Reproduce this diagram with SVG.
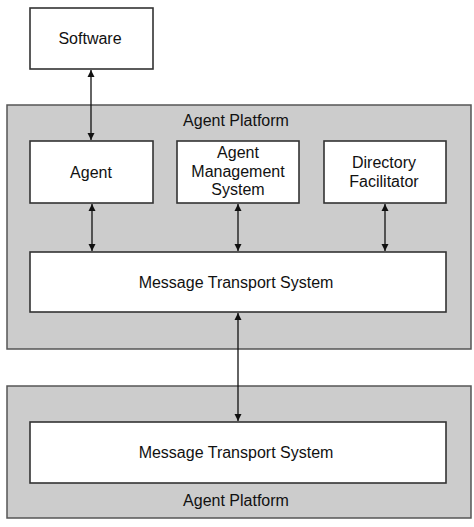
<svg xmlns="http://www.w3.org/2000/svg" width="474" height="527" viewBox="0 0 474 527">
<style>
.plat{fill:#cccccc;stroke:#555;stroke-width:1.5}
.box{fill:#fff;stroke:#333;stroke-width:1.6}
.t{font-family:"Liberation Sans",Arial,sans-serif;font-size:16px;fill:#111;text-anchor:middle}
.c{stroke:#111;stroke-width:1.3;fill:none;marker-start:url(#a);marker-end:url(#a)}
</style>
<defs>
<marker id="a" viewBox="0 0 10 10" refX="10" refY="5" markerWidth="7" markerHeight="8" markerUnits="userSpaceOnUse" orient="auto-start-reverse">
<path d="M0,0 L10,5 L0,10 Z" fill="#111"/>
</marker>
</defs>
<rect width="474" height="527" fill="#fff"/>
<g id="platform-top">
<rect class="plat" x="7" y="105" width="464" height="244"/>
<text class="t" x="236" y="126">Agent Platform</text>
</g>
<g id="platform-bottom">
<rect class="plat" x="7" y="386" width="464" height="132"/>
<text class="t" x="236" y="506">Agent Platform</text>
</g>
<g id="software">
<rect class="box" x="30" y="8" width="123" height="61"/>
<text class="t" x="90" y="44">Software</text>
</g>
<g id="agent">
<rect class="box" x="30" y="141" width="123" height="62"/>
<text class="t" x="91" y="178">Agent</text>
</g>
<g id="ams">
<rect class="box" x="177" y="141" width="122" height="62"/>
<text class="t" x="238" y="158">Agent</text>
<text class="t" x="238" y="177">Management</text>
<text class="t" x="238" y="195">System</text>
</g>
<g id="df">
<rect class="box" x="324" y="141" width="122" height="62"/>
<text class="t" x="384" y="168">Directory</text>
<text class="t" x="384" y="187">Facilitator</text>
</g>
<g id="mts-top">
<rect class="box" x="30" y="252" width="416" height="60"/>
<text class="t" x="236" y="288">Message Transport System</text>
</g>
<g id="mts-bottom">
<rect class="box" x="30" y="422" width="416" height="61"/>
<text class="t" x="236" y="458">Message Transport System</text>
</g>
<g id="connectors">
<line class="c" x1="91" y1="70" x2="91" y2="140"/>
<line class="c" x1="92" y1="204" x2="92" y2="251"/>
<line class="c" x1="238" y1="204" x2="238" y2="251"/>
<line class="c" x1="385" y1="204" x2="385" y2="251" stroke-width="2"/>
<line class="c" x1="238" y1="313" x2="238" y2="421"/>
</g>
</svg>
